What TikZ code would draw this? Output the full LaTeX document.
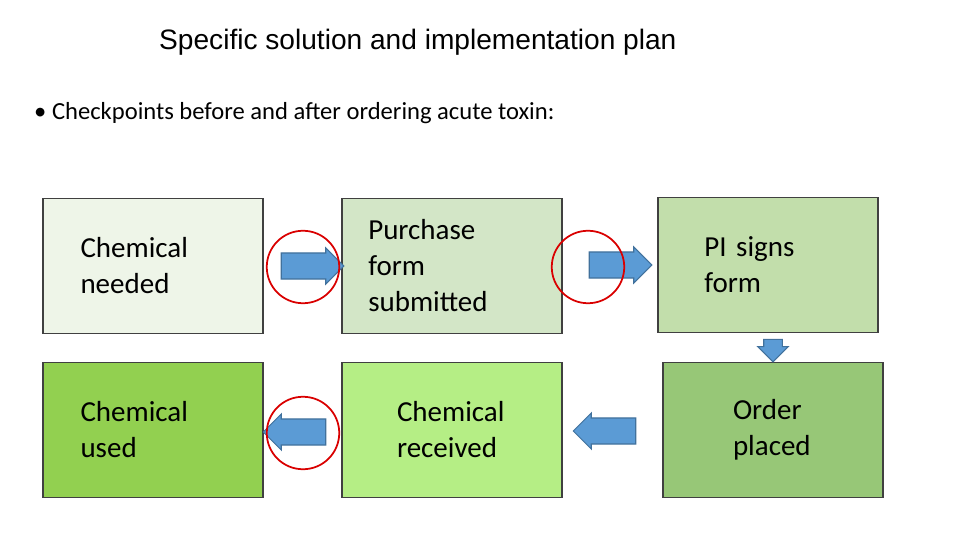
\documentclass[tikz,border=0pt]{standalone}
\usepackage{fontspec}
\setmainfont{Carlito}
\newfontfamily\arialf{Liberation Sans}
\usetikzlibrary{shapes.arrows}
\definecolor{arrfill}{HTML}{5B9BD5}
\definecolor{arrline}{HTML}{41719C}
\definecolor{fa}{HTML}{EEF5E8}
\definecolor{fb}{HTML}{D3E6C7}
\definecolor{fc}{HTML}{C2DEAB}
\definecolor{fd}{HTML}{92D050}
\definecolor{fe}{HTML}{B5EE85}
\definecolor{ff}{HTML}{97C777}
\begin{document}
\begin{tikzpicture}[x=0.02cm,y=-0.02cm,
  box/.style={draw=black!75, line width=0.8pt, minimum width=4.4cm, minimum height=2.7cm, font=\fontsize{16.5}{20.5}\selectfont, align=left},
  blk/.style={single arrow, draw=arrline, fill=arrfill, line width=0.6pt, minimum height=1.25cm, single arrow head extend=0.1cm, inner sep=0pt},
  ring/.style={draw=red!85!black, line width=1pt, circle, minimum size=1.45cm, inner sep=0pt}]
\useasboundingbox (0,0) rectangle (960,540);
\node[anchor=west] (title) at (153,42) {\arialf\fontsize{16}{19}\selectfont Specific solution and implementation plan};
\node[anchor=west] (bul) at (28,113) {\fontsize{14}{17}\selectfont\textbullet\ Checkpoints before and after ordering acute toxin:};
\node[box, fill=fa, text width=2.9cm] (b1) at (153,266) {Chemical\\needed};
\node[box, fill=fb, text width=3.35cm] (b2) at (452,266) {Purchase form\\submitted};
\node[box, fill=fc, text width=2.55cm] (b3) at (768,265) {PI signs\\form};
\node[box, fill=fd, text width=2.9cm] (b4) at (153,430) {Chemical\\used};
\node[box, fill=fe, text width=2.2cm] (b5) at (452,430) {Chemical\\received};
\node[box, fill=ff, text width=1.6cm] (b6) at (773,430) {Order\\placed};
\node[blk] (a1) at (306,266) {\rule{0pt}{0.5cm}};
\node[blk] (a2) at (614,265) {\rule{0pt}{0.5cm}};
\node[blk, rotate=-90, minimum height=0.45cm, single arrow head extend=0.12cm] (a3) at (773,346) {\rule{0pt}{0.35cm}};
\node[blk, shape border rotate=180] (a4) at (611,431) {\rule{0pt}{0.5cm}};
\node[blk, shape border rotate=180] (a5) at (301,432) {\rule{0pt}{0.5cm}};
\node[ring] (r1) at (303,267) {};
\node[ring] (r2) at (588,267) {};
\node[ring] (r3) at (303,433) {};
\end{tikzpicture}
\end{document}
